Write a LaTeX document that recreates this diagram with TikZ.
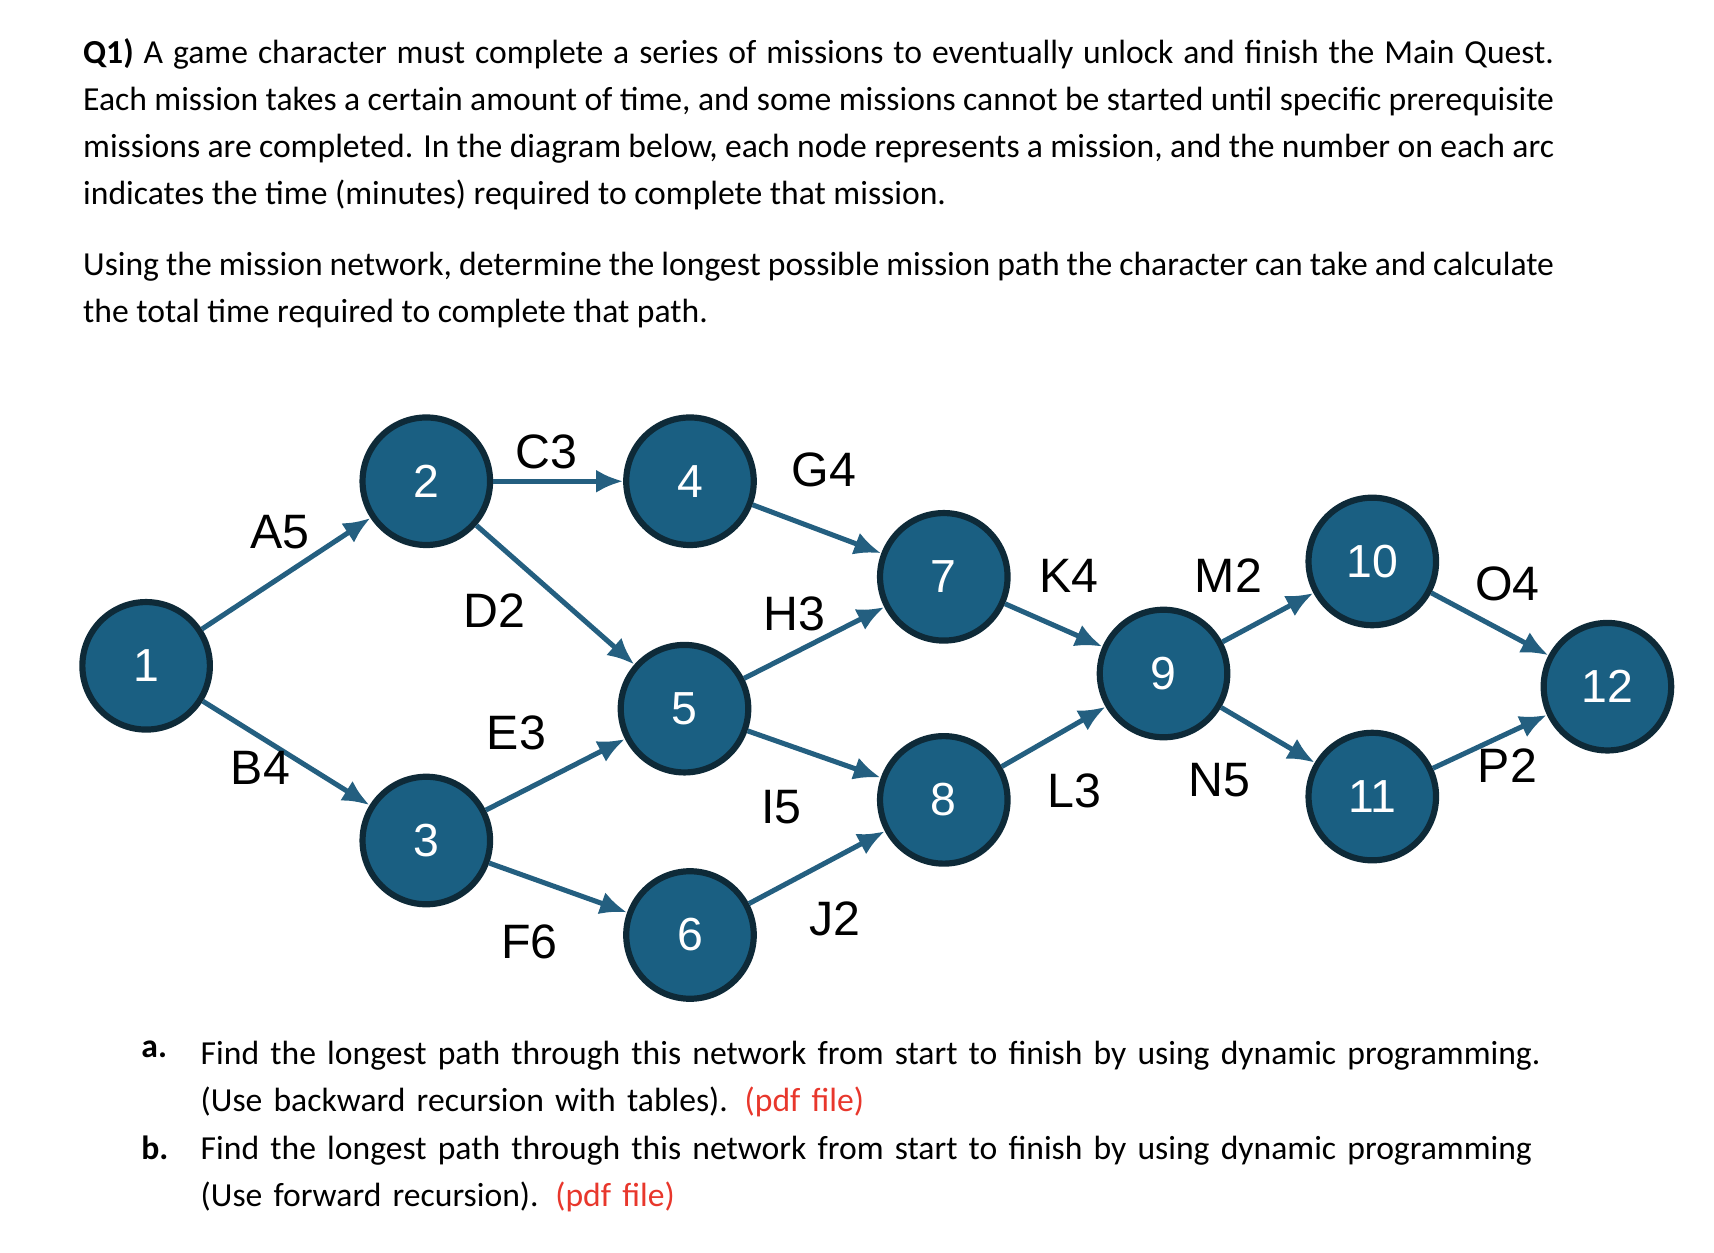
\documentclass[tikz,border=0pt]{standalone}
\usepackage{fontspec}
\setmainfont{Carlito}
\newfontfamily\arialf{Liberation Sans}
\definecolor{nodefill}{HTML}{1A5F82}
\definecolor{nodeedge}{HTML}{0E2A38}
\definecolor{arc}{HTML}{245F80}
\definecolor{pdfred}{HTML}{E8372C}
\begin{document}
\begin{tikzpicture}[x=0.01cm,y=-0.01cm,
  mission/.style={circle,fill=nodefill,draw=nodeedge,line width=1.6pt,minimum size=1.16cm,inner sep=0pt,text=white,font=\arialf\fontsize{12}{14}\selectfont},
  arcline/.style={draw=arc,line width=1.3pt,-{Latex[length=7pt,width=6pt]}},
  lab/.style={font=\arialf\fontsize{12.5}{14}\selectfont,inner sep=0pt},
  para/.style={anchor=north west,inner sep=0pt,text width=13.38cm,align=justify,font=\fontsize{8.7}{12.2}\selectfont}]
\useasboundingbox (0,0) rectangle (1560,1140);
\usetikzlibrary{arrows.meta}
\node[para] (p1) at (75,34) {\textbf{Q1)} A game character must complete a series of missions to eventually unlock and finish the Main Quest. Each mission takes a certain amount of time, and some missions cannot be started until specific prerequisite missions are completed. In the diagram below, each node represents a mission, and the number on each arc indicates the time (minutes) required to complete that mission.};
\node[para] (p2) at (75,229) {Using the mission network, determine the longest possible mission path the character can take and calculate the total time required to complete that path.};
\node (n1) [mission] at (133,606) {1};
\node (n2) [mission] at (388,438) {2};
\node (n3) [mission] at (388,765) {3};
\node (n4) [mission] at (628,438) {4};
\node (n5) [mission] at (623,645) {5};
\node (n6) [mission] at (628,851) {6};
\node (n7) [mission] at (859,525) {7};
\node (n8) [mission] at (859,728) {8};
\node (n9) [mission] at (1059,613) {9};
\node (n10) [mission] at (1249,511) {10};
\node (n11) [mission] at (1249,725) {11};
\node (n12) [mission] at (1463,625) {12};
\draw[arcline] (n1) -- (n2);
\draw[arcline] (n1) -- (n3);
\draw[arcline] (n2) -- (n4);
\draw[arcline] (n2) -- (n5);
\draw[arcline] (n3) -- (n5);
\draw[arcline] (n3) -- (n6);
\draw[arcline] (n4) -- (n7);
\draw[arcline] (n5) -- (n7);
\draw[arcline] (n5) -- (n8);
\draw[arcline] (n6) -- (n8);
\draw[arcline] (n7) -- (n9);
\draw[arcline] (n8) -- (n9);
\draw[arcline] (n9) -- (n10);
\draw[arcline] (n9) -- (n11);
\draw[arcline] (n10) -- (n12);
\draw[arcline] (n11) -- (n12);
\node (lA) [lab] at (255,484) {A5};
\node (lB) [lab] at (237,699) {B4};
\node (lC) [lab] at (497,411) {C3};
\node (lD) [lab] at (450,556) {D2};
\node (lE) [lab] at (470,667) {E3};
\node (lF) [lab] at (482,857) {F6};
\node (lG) [lab] at (750,428) {G4};
\node (lH) [lab] at (723,559) {H3};
\node (lI) [lab] at (711,735) {I5};
\node (lJ) [lab] at (760,836) {J2};
\node (lK) [lab] at (973,524) {K4};
\node (lL) [lab] at (978,720) {L3};
\node (lM) [lab] at (1118,524) {M2};
\node (lN) [lab] at (1110,710) {N5};
\node (lO) [lab] at (1372,531) {O4};
\node (lP) [lab] at (1372,697) {P2};
\node (qa) [anchor=north west,inner sep=0pt,font=\fontsize{8.7}{12.2}\selectfont] at (128,947) {\textbf{a.}};
\node (ta) [anchor=north west,inner sep=0pt,text width=12.4cm,font=\fontsize{8.7}{12.2}\selectfont] at (182,947) {Find the longest path through this network from start to finish by using dynamic programming. (Use backward recursion with tables). \textcolor{pdfred}{(pdf file)}};
\node (qb) [anchor=north west,inner sep=0pt,font=\fontsize{8.7}{12.2}\selectfont] at (128,1033) {\textbf{b.}};
\node (tb) [anchor=north west,inner sep=0pt,text width=12.4cm,font=\fontsize{8.7}{12.2}\selectfont] at (182,1033) {Find the longest path through this network from start to finish by using dynamic programming (Use forward recursion). \textcolor{pdfred}{(pdf file)}};
\end{tikzpicture}
\end{document}
